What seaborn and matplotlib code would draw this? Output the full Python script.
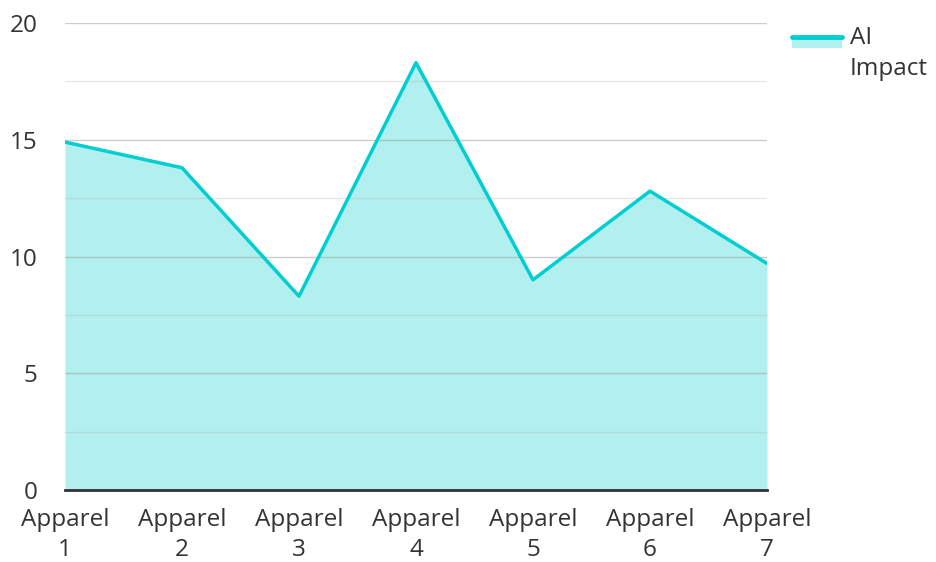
import matplotlib
matplotlib.use("Agg")
import matplotlib.pyplot as plt
import pandas as pd
import seaborn as sns
from matplotlib.lines import Line2D
from matplotlib.patches import Rectangle
from matplotlib.ticker import MultipleLocator


CATEGORIES = ["Apparel\n1", "Apparel\n2", "Apparel\n3", "Apparel\n4", "Apparel\n5", "Apparel\n6", "Apparel\n7"]
AI_IMPACT = [14.9, 13.8, 8.3, 18.3, 9.0, 12.8, 9.7]
SERIES_NAME = "AI\nImpact"

LINE_COLOR = "#00CED1"
FILL_COLOR = "#B2EFEF"
FONT_SIZE = 17.5


class AreaHandler:
    # legend key: filled block with the line along its top edge, level with the first text line
    def legend_artist(self, legend, orig_handle, fontsize, handlebox):
        x0, y0 = handlebox.xdescent, handlebox.ydescent
        w, h = handlebox.width, handlebox.height
        rect = Rectangle((x0, y0 + 0.85 * h), w, 0.62 * h, facecolor=FILL_COLOR, edgecolor="none",
                         transform=handlebox.get_transform())
        line = Line2D([x0, x0 + w], [y0 + 1.47 * h, y0 + 1.47 * h], color=LINE_COLOR, linewidth=3.5,
                      transform=handlebox.get_transform())
        handlebox.add_artist(rect)
        handlebox.add_artist(line)
        return rect


def main() -> None:
    sns.set_theme(style="white")
    plt.rcParams["font.family"] = ["Open Sans", "DejaVu Sans"]

    data = pd.DataFrame({"category": CATEGORIES, "value": AI_IMPACT})
    data["pos"] = range(len(data))

    fig = plt.figure(figsize=(9.36, 5.62), dpi=100)
    ax = fig.add_axes([65 / 936, 1 - 490 / 562, (767 - 65) / 936, (490 - 23) / 562])

    ax.fill_between(data["pos"], data["value"], 0, color=FILL_COLOR, linewidth=0, zorder=1)
    sns.lineplot(data=data, x="pos", y="value", ax=ax, color=LINE_COLOR, linewidth=2.5, zorder=3)

    ax.set_xlim(0, len(data) - 1)
    ax.set_ylim(0, 20)
    ax.yaxis.set_major_locator(MultipleLocator(5))
    ax.yaxis.set_minor_locator(MultipleLocator(2.5))
    ax.set_axisbelow(False)
    ax.grid(axis="y", which="major", color="#9a9a9a", alpha=0.5, linewidth=1, zorder=2)
    ax.grid(axis="y", which="minor", color="#b0b0b0", alpha=0.3, linewidth=1, zorder=2)

    ax.set_xticks(data["pos"])
    ax.set_xticklabels(data["category"], fontsize=FONT_SIZE, color="#333333", linespacing=1.35)
    ax.tick_params(axis="y", labelsize=FONT_SIZE, labelcolor="#333333", length=0, pad=20)
    ax.tick_params(axis="x", length=0, pad=13)
    ax.tick_params(axis="y", which="minor", length=0)

    for side in ["top", "right", "left"]:
        ax.spines[side].set_visible(False)
    ax.spines["bottom"].set_color("#333333")
    ax.spines["bottom"].set_linewidth(2)
    ax.spines["bottom"].set_zorder(4)

    ax.set_xlabel("")
    ax.set_ylabel("")

    fig.legend(
        [object()], [SERIES_NAME],
        handler_map={object: AreaHandler()},
        loc="upper left", bbox_to_anchor=(792 / 936, 1 - 26 / 562), bbox_transform=fig.transFigure,
        frameon=False, borderpad=0, borderaxespad=0, fontsize=FONT_SIZE,
        handlelength=2.06, handletextpad=0.33, labelcolor="#333333", labelspacing=0.2,
    )
    for text in fig.legends[0].get_texts():
        text.set_linespacing(1.38)

    fig.savefig("out.png", dpi=100)
    plt.close(fig)


if __name__ == "__main__":
    main()
